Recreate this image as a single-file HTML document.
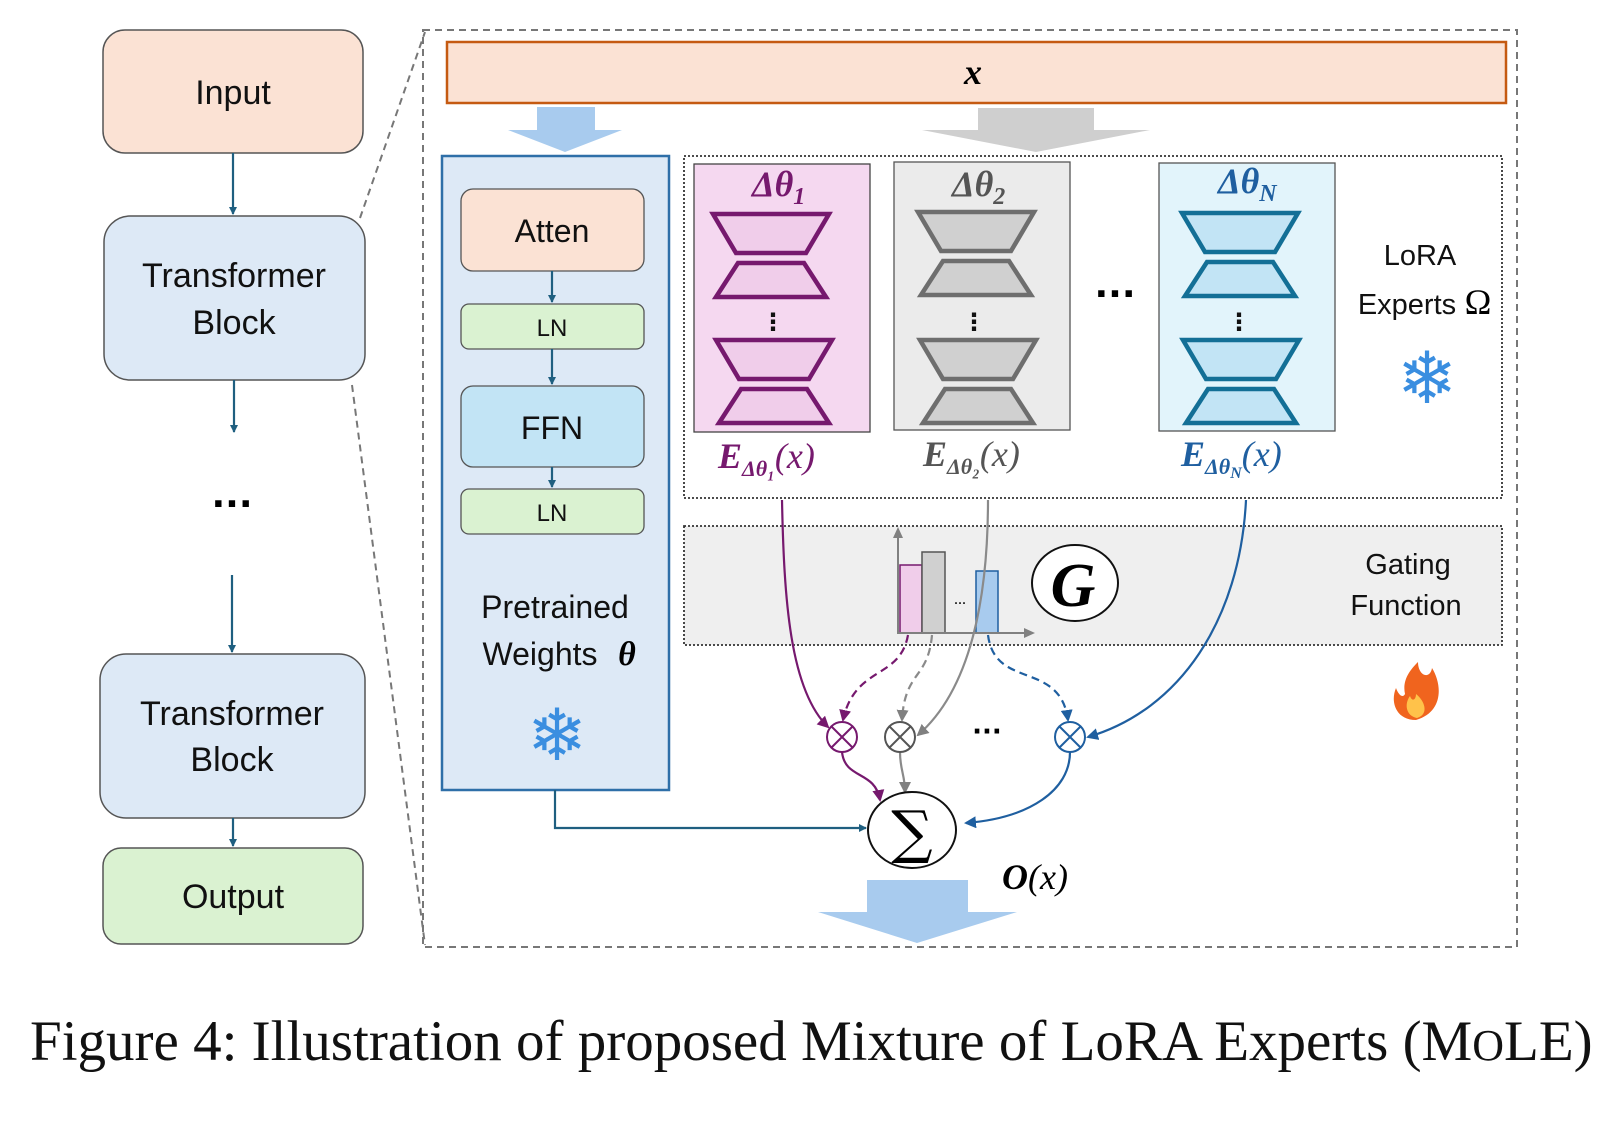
<!DOCTYPE html>
<html><head><meta charset="utf-8"><style>
html,body{margin:0;padding:0;background:#fff;}
svg{display:block;}
.s{font-family:"Liberation Sans","DejaVu Sans",sans-serif;}
.m{font-family:"Liberation Serif","DejaVu Serif",serif;font-style:italic;font-weight:bold;}
</style></head><body>
<svg width="1600" height="1124" viewBox="0 0 1600 1124" xmlns="http://www.w3.org/2000/svg">
<defs>
<marker id="aB" markerWidth="8" markerHeight="8" refX="7" refY="4" orient="auto" markerUnits="userSpaceOnUse"><path d="M0,0 L8,4 L0,8z" fill="#1f5f80"/></marker>
<marker id="aP" markerWidth="12" markerHeight="12" refX="10" refY="6" orient="auto" markerUnits="userSpaceOnUse"><path d="M0,0 L12,6 L0,12z" fill="#76196e"/></marker>
<marker id="aG" markerWidth="12" markerHeight="12" refX="10" refY="6" orient="auto" markerUnits="userSpaceOnUse"><path d="M0,0 L12,6 L0,12z" fill="#808080"/></marker>
<marker id="aN" markerWidth="12" markerHeight="12" refX="10" refY="6" orient="auto" markerUnits="userSpaceOnUse"><path d="M0,0 L12,6 L0,12z" fill="#1f5fa0"/></marker>
<g id="hg">
<path d="M0,0 L116,0 L93,39 L23,39z"/>
<path d="M25,49 L91,49 L113,83 L3,83z"/>
</g>
</defs>

<!-- left column -->
<g stroke="#555" stroke-width="1.5">
<rect x="103" y="30" width="260" height="123" rx="22" fill="#fbe2d4"/>
<rect x="104" y="216" width="261" height="164" rx="26" fill="#dde9f6"/>
<rect x="100" y="654" width="265" height="164" rx="26" fill="#dde9f6"/>
<rect x="103" y="848" width="260" height="96" rx="18" fill="#daf2d1"/>
</g>
<g class="s" font-size="34" text-anchor="middle" fill="#111">
<text x="233" y="104">Input</text>
<text x="234" y="287">Transformer</text>
<text x="234" y="334">Block</text>
<text x="232" y="725">Transformer</text>
<text x="232" y="771">Block</text>
<text x="233" y="908">Output</text>
</g>
<g stroke="#1f5f80" stroke-width="2.2" marker-end="url(#aB)">
<line x1="233" y1="153" x2="233" y2="214"/>
<line x1="234" y1="380" x2="234" y2="432"/>
<line x1="232" y1="575" x2="232" y2="652"/>
<line x1="233" y1="818" x2="233" y2="846"/>
</g>
<text x="232" y="516" font-family="DejaVu Sans" font-size="36" text-anchor="middle" font-weight="bold">···</text>

<!-- zoom dashed -->
<g stroke="#777" stroke-width="2" stroke-dasharray="7,5" fill="none">
<line x1="360" y1="218" x2="425" y2="32"/>
<line x1="352" y1="385" x2="425" y2="945"/>
<rect x="423" y="30" width="1094" height="917"/>
</g>

<!-- x bar -->
<rect x="447" y="42" width="1059" height="61" fill="#fbe2d4" stroke="#c55a11" stroke-width="2.5"/>
<text x="973" y="84" class="m" font-size="36" text-anchor="middle">x</text>

<!-- big arrows -->
<path d="M537,107 H595 V130 H622 L565,152 L508,130 H537z" fill="#a8cbee"/>
<path d="M978,108 H1094 V130 H1150 L1036,152 L922,130 H978z" fill="#cfcfcf"/>
<path d="M867,880 H968 V912 H1017 L917,943 L818,912 H867z" fill="#a8cbee"/>

<!-- pretrained -->
<rect x="442" y="156" width="227" height="634" fill="#dde9f6" stroke="#2e6fa8" stroke-width="2.5"/>
<g stroke="#555" stroke-width="1.3">
<rect x="461" y="189" width="183" height="82" rx="12" fill="#fbe2d4"/>
<rect x="461" y="304" width="183" height="45" rx="8" fill="#daf2d1"/>
<rect x="461" y="386" width="183" height="81" rx="12" fill="#c2e4f5"/>
<rect x="461" y="489" width="183" height="45" rx="8" fill="#daf2d1"/>
</g>
<g stroke="#1f5f80" stroke-width="2.2" marker-end="url(#aB)">
<line x1="552" y1="271" x2="552" y2="302"/>
<line x1="552" y1="349" x2="552" y2="384"/>
<line x1="552" y1="467" x2="552" y2="487"/>
</g>
<g class="s" text-anchor="middle" fill="#111">
<text x="552" y="242" font-size="32">Atten</text>
<text x="552" y="336" font-size="24">LN</text>
<text x="552" y="439" font-size="32">FFN</text>
<text x="552" y="521" font-size="24">LN</text>
<text x="555" y="618" font-size="32">Pretrained</text>
<text x="540" y="665" font-size="32">Weights</text>
</g>
<text x="627" y="665" class="m" font-size="34" text-anchor="middle">θ</text>
<text x="557" y="760" font-family="DejaVu Sans" font-size="72" fill="#3a8ee0" text-anchor="middle">❄</text>

<!-- experts -->
<rect x="684" y="156" width="818" height="342" fill="none" stroke="#333" stroke-width="1.8" stroke-dasharray="2,2"/>
<rect x="694" y="164" width="176" height="268" fill="#f5d8f0" stroke="#444" stroke-width="1.3"/>
<rect x="894" y="162" width="176" height="268" fill="#ebebeb" stroke="#555" stroke-width="1.3"/>
<rect x="1159" y="163" width="176" height="268" fill="#e2f4fb" stroke="#555" stroke-width="1.3"/>
<g fill="#f0cdea" stroke="#76196e" stroke-width="4.5">
<use href="#hg" x="713" y="214"/><use href="#hg" x="716" y="340"/>
</g>
<g fill="#d0d0d0" stroke="#6e6e6e" stroke-width="4.5">
<use href="#hg" x="918" y="212"/><use href="#hg" x="920" y="340"/>
</g>
<g fill="#c2e4f5" stroke="#136f96" stroke-width="4.5">
<use href="#hg" x="1182" y="213"/><use href="#hg" x="1183" y="340"/>
</g>
<g font-family="DejaVu Sans" font-size="24" font-weight="bold" text-anchor="middle">
<text x="773" y="330" fill="#111">⋮</text>
<text x="974" y="330" fill="#111">⋮</text>
<text x="1239" y="330" fill="#111">⋮</text>
</g>
<text x="1115" y="306" font-family="DejaVu Sans" font-size="36" font-weight="bold" text-anchor="middle">···</text>
<g class="m" font-size="36">
<text x="752" y="196" fill="#76196e">Δθ<tspan font-size="24" dy="8">1</tspan></text>
<text x="952" y="196" fill="#555">Δθ<tspan font-size="24" dy="8">2</tspan></text>
<text x="1218" y="193" fill="#1f5fa0">Δθ<tspan font-size="24" dy="8">N</tspan></text>
<text x="718" y="468" fill="#76196e">E<tspan font-size="22" dy="8">Δθ₁</tspan><tspan dy="-8" font-weight="normal">(x)</tspan></text>
<text x="923" y="466" fill="#555">E<tspan font-size="22" dy="8">Δθ₂</tspan><tspan dy="-8" font-weight="normal">(x)</tspan></text>
<text x="1181" y="466" fill="#1f5fa0">E<tspan font-size="22" dy="8">Δθ</tspan><tspan font-size="16" dy="4">N</tspan><tspan dy="-12" font-weight="normal">(x)</tspan></text>
</g>
<g class="s" font-size="29" text-anchor="middle" fill="#111">
<text x="1420" y="265">LoRA</text>
<text x="1407" y="314">Experts</text>
</g>
<text x="1478" y="314" font-family="Liberation Serif" font-size="36" text-anchor="middle">Ω</text>
<text x="1427" y="403" font-family="DejaVu Sans" font-size="72" fill="#3a8ee0" text-anchor="middle">❄</text>

<!-- gating -->
<rect x="684" y="526" width="818" height="119" fill="#efefef" stroke="#333" stroke-width="1.8" stroke-dasharray="2,2"/>
<rect x="900" y="565" width="22" height="68" fill="#f0cdea" stroke="#76196e" stroke-width="1.5"/>
<rect x="922" y="552" width="23" height="81" fill="#d0d0d0" stroke="#555" stroke-width="1.5"/>
<rect x="976" y="571" width="22" height="62" fill="#a8cbee" stroke="#1f5fa0" stroke-width="1.5"/>
<text x="960" y="604" font-size="16" text-anchor="middle">...</text>
<g stroke="#808080" stroke-width="2" fill="none">
<polyline points="898,534 898,633 1028,633"/>
</g>
<path d="M893,538 L898,527 L903,538z M1024,628 L1035,633 L1024,638z" fill="#808080"/>
<ellipse cx="1075" cy="583" rx="43" ry="38" fill="#fff" stroke="#111" stroke-width="2"/>
<text x="1073" y="606" class="m" font-size="62" text-anchor="middle">G</text>
<g class="s" font-size="29" text-anchor="middle" fill="#111">
<text x="1408" y="574">Gating</text>
<text x="1406" y="615">Function</text>
</g>
<!-- flame -->
<path d="M1416,720 C1396,720 1390,702 1396,688 C1399,696 1403,698 1405,694 C1402,680 1410,670 1418,662 C1418,676 1430,680 1432,668 C1442,684 1444,712 1416,720z" fill="#f0641e"/>
<path d="M1417,718 C1406,716 1404,704 1410,696 C1412,702 1416,700 1416,694 C1424,700 1430,714 1417,718z" fill="#ffc24a"/>

<!-- connectors -->
<g fill="none" stroke-width="2.2">
<path d="M782,500 C784,600 790,690 828,727" stroke="#76196e" marker-end="url(#aP)"/>
<path d="M988,500 C988,600 970,690 918,735" stroke="#8a8a8a" marker-end="url(#aG)"/>
<path d="M1246,500 C1240,620 1180,710 1088,737" stroke="#1f5fa0" marker-end="url(#aN)"/>
<path d="M908,635 C900,680 855,665 843,720" stroke="#76196e" stroke-dasharray="8,5" marker-end="url(#aP)"/>
<path d="M932,635 C928,680 905,670 902,720" stroke="#8a8a8a" stroke-dasharray="8,5" marker-end="url(#aG)"/>
<path d="M988,635 C995,690 1060,660 1068,720" stroke="#1f5fa0" stroke-dasharray="8,5" marker-end="url(#aN)"/>
<path d="M842,752 C845,780 875,770 880,800" stroke="#76196e" marker-end="url(#aP)"/>
<path d="M900,752 C900,770 905,775 905,792" stroke="#8a8a8a" marker-end="url(#aG)"/>
<path d="M1070,752 C1070,790 1030,818 966,823" stroke="#1f5fa0" marker-end="url(#aN)"/>
<polyline points="555,790 555,828 866,828" stroke="#1f5f80" marker-end="url(#aB)"/>
</g>
<g stroke-width="2" fill="#fff">
<g stroke="#76196e"><circle cx="842" cy="737" r="15"/><path d="M831,726 L853,748 M853,726 L831,748"/></g>
<g stroke="#555"><circle cx="900" cy="737" r="15"/><path d="M889,726 L911,748 M911,726 L889,748"/></g>
<g stroke="#1f5fa0"><circle cx="1070" cy="737" r="15"/><path d="M1059,726 L1081,748 M1081,726 L1059,748"/></g>
</g>
<text x="987" y="740" font-family="DejaVu Sans" font-size="26" font-weight="bold" text-anchor="middle">···</text>
<ellipse cx="912" cy="830" rx="44" ry="38" fill="#fff" stroke="#111" stroke-width="2"/>
<text x="912" y="852" font-family="DejaVu Serif" font-size="58" text-anchor="middle">∑</text>
<text x="1002" y="889" class="m" font-size="36">O<tspan font-weight="normal">(x)</tspan></text>

<!-- caption -->
<text x="30" y="1060" font-family="Liberation Serif" font-size="57" fill="#111">Figure 4: Illustration of proposed Mixture of LoRA Experts (M<tspan font-size="44">O</tspan>LE)</text>
</svg>
</body></html>
